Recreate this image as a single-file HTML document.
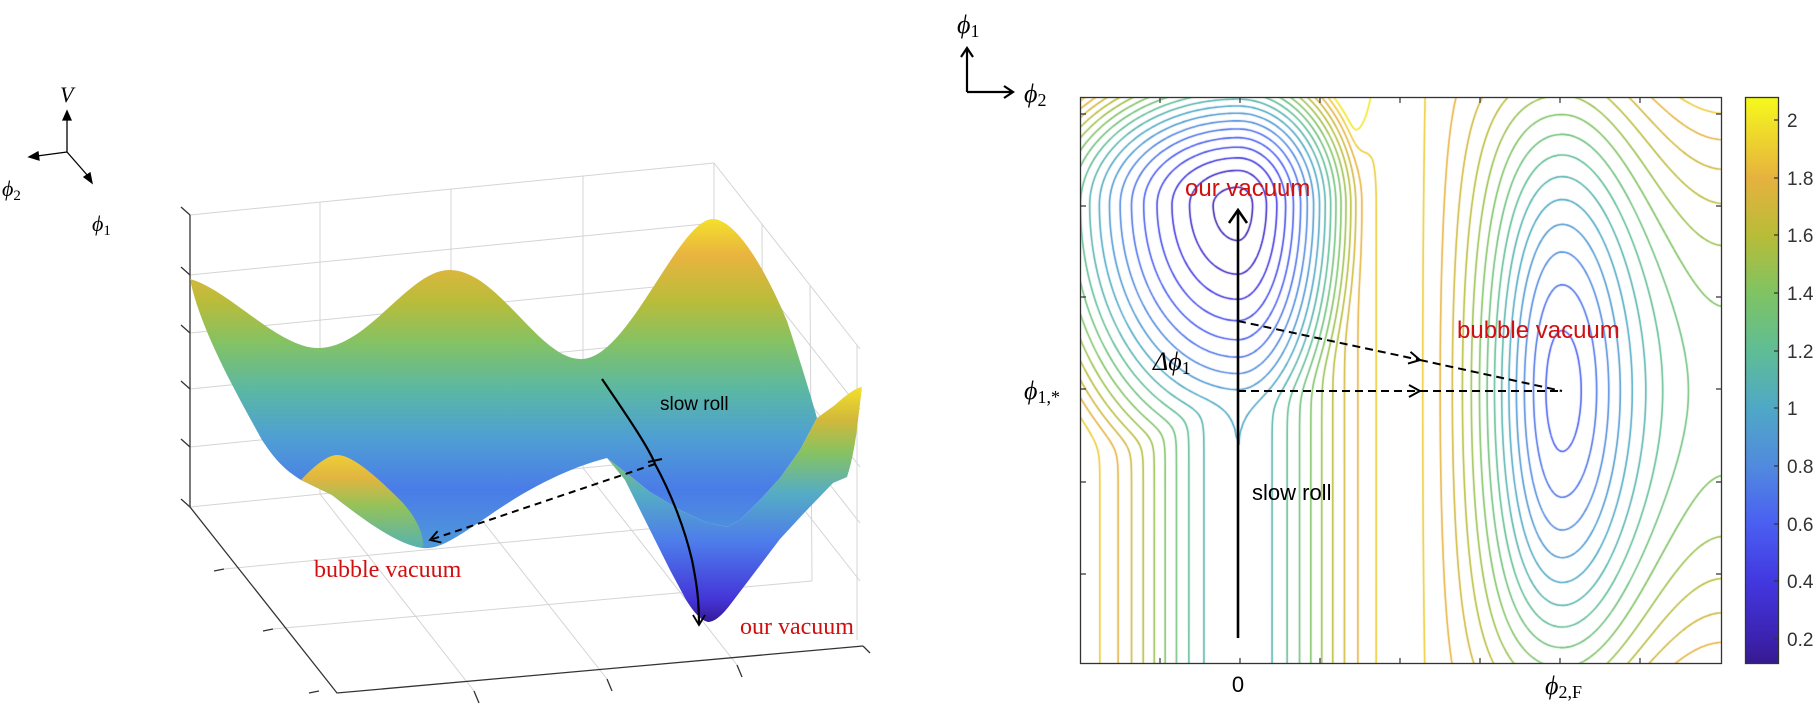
<!DOCTYPE html>
<html><head><meta charset="utf-8">
<style>
html,body{margin:0;padding:0;background:#fff;}
body{width:1817px;height:709px;overflow:hidden;position:relative;}
#cv{position:absolute;left:1080px;top:97px;}
svg{position:absolute;left:0;top:0;}
</style></head><body>
<canvas id="cv" width="642" height="567"></canvas>
<svg width="1817" height="709" xmlns="http://www.w3.org/2000/svg">
<defs>
<linearGradient id="gA" gradientUnits="userSpaceOnUse" x1="0" y1="215" x2="0" y2="550">
<stop offset="0" stop-color="#f5e52a"/><stop offset="0.12" stop-color="#e9b43f"/>
<stop offset="0.26" stop-color="#b9bc3a"/><stop offset="0.38" stop-color="#84c263"/>
<stop offset="0.52" stop-color="#5bb8a2"/><stop offset="0.66" stop-color="#4fa0d2"/>
<stop offset="0.82" stop-color="#4a7ce8"/><stop offset="1" stop-color="#4f9ad8"/>
</linearGradient>
<linearGradient id="gB" gradientUnits="userSpaceOnUse" x1="0" y1="455" x2="0" y2="548">
<stop offset="0" stop-color="#efcd36"/><stop offset="0.25" stop-color="#e0b540"/>
<stop offset="0.55" stop-color="#94c25a"/><stop offset="1" stop-color="#56b2b0"/>
</linearGradient>
<linearGradient id="gC" gradientUnits="userSpaceOnUse" x1="0" y1="387" x2="0" y2="622">
<stop offset="0" stop-color="#f2e02c"/><stop offset="0.14" stop-color="#d2b83a"/>
<stop offset="0.28" stop-color="#86c262"/><stop offset="0.45" stop-color="#55adc4"/>
<stop offset="0.66" stop-color="#4d7ceb"/><stop offset="0.9" stop-color="#4436d8"/>
<stop offset="1" stop-color="#361a98"/>
</linearGradient>
<linearGradient id="gCB" x1="0" y1="0" x2="0" y2="1">
<stop offset="0" stop-color="#f6f91c"/><stop offset="0.142" stop-color="#e6b23e"/>
<stop offset="0.244" stop-color="#b8bc38"/><stop offset="0.346" stop-color="#7fc363"/>
<stop offset="0.448" stop-color="#5fbd95"/><stop offset="0.549" stop-color="#4fa8c6"/>
<stop offset="0.651" stop-color="#518ade"/><stop offset="0.753" stop-color="#4a5ff2"/>
<stop offset="0.855" stop-color="#4238e0"/><stop offset="0.956" stop-color="#3c22b0"/>
<stop offset="1" stop-color="#36198f"/>
</linearGradient>
<marker id="chev" markerWidth="14" markerHeight="14" refX="12" refY="7" orient="auto" markerUnits="userSpaceOnUse">
<path d="M1,1 L12,7 L1,13" fill="none" stroke="#000" stroke-width="2"/>
</marker>
<marker id="chev2" markerWidth="14" markerHeight="14" refX="11" refY="7" orient="auto" markerUnits="userSpaceOnUse">
<path d="M1,1 L11,7 L1,13" fill="none" stroke="#000" stroke-width="1.8"/>
</marker>
</defs>

<g stroke="#d4d4d4" stroke-width="1" fill="none">
<path d="M190,215 L714,163 M190,275 L714,223 M190,333 L714,281 M190,389 L714,337 M190,447 L714,395 M190,507 L714,455"/>
<path d="M320,202 L320,494 M451,189 L451,481 M583,176 L583,468 M714,163 L714,455"/>
<path d="M714,163 L860,349 M714,223 L860,409 M714,281 L860,467 M714,337 L860,523 M714,395 L860,581"/>
<path d="M762,224 L763,518 M810,286 L812,581 M857,345 L857,640"/>
<path d="M224,569 L763,518 M273,629 L812,581"/>
<path d="M320,494 L474,691 M451,481 L607,679 M583,468 L737,665"/>
</g>
<g stroke="#333" stroke-width="1.3" fill="none">
<path d="M190,215 L190,507 L337,693 L863,646"/>
<path d="M190,215 L181,207 M190,275 L181,267 M190,333 L181,325 M190,389 L181,381 M190,447 L181,439 M190,507 L181,499"/>
<path d="M224,569 L214,571 M273,629 L263,631 M319,691 L309,693"/>
<path d="M474,691 L479,703 M607,679 L612,691 M737,665 L742,677 M863,646 L870,653"/>
</g>

<path fill="url(#gA)" d="M190,279 C230,290 280,350 320,348 C370,346 410,268 451,270 C500,272 540,362 583,359 C630,356 680,216 714,219 C740,222 770,280 787,321 C800,360 812,400 817,418 L800,450 L780,478 L760,500 L740,520 L727,527 L705,522 L680,510 L650,492 L625,472 L607,458 C580,465 540,480 490,515 C460,535 440,550 423,548 C400,545 370,525 332,495 L301,480 C285,470 275,460 262,440 C240,400 200,330 190,279 Z"/>
<path fill="url(#gB)" d="M301,480 C315,465 328,455 337,455 C352,455 375,475 400,500 C415,515 425,535 423,548 C400,545 370,525 332,495 Z"/>
<path fill="url(#gC)" d="M607,458 L625,480 L640,510 L655,540 L670,570 L685,598 C692,610 700,620 708,622 C716,622 725,612 733,601 L755,572 L780,539 L805,512 L833,483 L847,477 C852,462 856,440 858,420 L862,387 C855,388 845,396 835,405 L817,418 L800,450 L780,478 L760,500 L740,520 L727,527 L705,522 L680,510 L650,492 L625,472 Z"/>

<path d="M602,379 C630,420 650,450 655,464 C672,495 685,530 692,560 C697,585 699,600 699,625" fill="none" stroke="#000" stroke-width="2.2" marker-end="url(#chev2)"/>
<path d="M648,462 L662,459" stroke="#000" stroke-width="2"/>
<path d="M655,464 L430,540" stroke="#000" stroke-width="2" stroke-dasharray="7,5" fill="none" marker-end="url(#chev2)"/>
<text x="660" y="410" font-family="Liberation Sans, sans-serif" font-size="19" fill="#000">slow roll</text>
<text x="314" y="577" font-family="Liberation Serif, serif" font-size="24" fill="#d01010">bubble vacuum</text>
<text x="740" y="634" font-family="Liberation Serif, serif" font-size="24" fill="#d01010">our vacuum</text>

<g stroke="#000" stroke-width="1.3" fill="#000">
<line x1="67" y1="152" x2="67" y2="118"/><path d="M63,120 L67,111 L71,120 Z"/>
<line x1="67" y1="152" x2="37" y2="156"/><path d="M38,152 L29,157 L39,160 Z"/>
<line x1="67" y1="152" x2="88" y2="176"/><path d="M84,177 L92,183 L90,173 Z"/>
</g>
<g font-family="Liberation Serif, serif" font-style="italic" font-size="22" fill="#000">
<text x="60" y="102">V</text>
<text x="2" y="196">ϕ<tspan font-size="15" font-style="normal" dy="4">2</tspan></text>
<text x="92" y="231">ϕ<tspan font-size="15" font-style="normal" dy="4">1</tspan></text>
</g>

<rect x="1080.5" y="97.5" width="641" height="566" fill="none" stroke="#333" stroke-width="1.3"/>
<g stroke="#333" stroke-width="1.2">
<path d="M1160,664 v-6 M1240,664 v-6 M1320,664 v-6 M1400,664 v-6 M1480,664 v-6 M1560,664 v-6 M1640,664 v-6"/>
<path d="M1160,97 v6 M1240,97 v6 M1320,97 v6 M1400,97 v6 M1480,97 v6 M1560,97 v6 M1640,97 v6"/>
<path d="M1080,114 h6 M1080,206 h6 M1080,297 h6 M1080,389 h6 M1080,482 h6 M1080,574 h6"/>
<path d="M1722,114 h-6 M1722,206 h-6 M1722,297 h-6 M1722,389 h-6 M1722,482 h-6 M1722,574 h-6"/>
</g>
<line x1="1238" y1="638" x2="1238" y2="212" stroke="#000" stroke-width="2.6"/>
<path d="M1229,223 L1238,210 L1247,223" fill="none" stroke="#000" stroke-width="2.6"/>
<path d="M1238,321 L1420,360" stroke="#000" stroke-width="2" stroke-dasharray="8,5" fill="none" marker-end="url(#chev)"/>
<path d="M1420,360 L1562,391" stroke="#000" stroke-width="2" stroke-dasharray="8,5" fill="none"/>
<path d="M1238,391 L1420,391" stroke="#000" stroke-width="2" stroke-dasharray="8,5" fill="none" marker-end="url(#chev)"/>
<path d="M1420,391 L1562,391" stroke="#000" stroke-width="2" stroke-dasharray="8,5" fill="none"/>
<text x="1185" y="196" font-family="Liberation Sans, sans-serif" font-size="24" fill="#d01010">our vacuum</text>
<text x="1457" y="338" font-family="Liberation Sans, sans-serif" font-size="24" fill="#d01010">bubble vacuum</text>
<text x="1252" y="500" font-family="Liberation Sans, sans-serif" font-size="22" fill="#000">slow roll</text>
<g font-family="Liberation Serif, serif" font-style="italic" fill="#000">
<text x="1153" y="370" font-size="26">Δϕ<tspan font-size="18" font-style="normal" dy="4">1</tspan></text>
<text x="1024" y="399" font-size="26">ϕ<tspan font-size="18" font-style="normal" dy="4">1,*</tspan></text>
<text x="1545" y="694" font-size="26">ϕ<tspan font-size="18" font-style="normal" dy="4">2,F</tspan></text>
<text x="957" y="33" font-size="26">ϕ<tspan font-size="18" font-style="normal" dy="4">1</tspan></text>
<text x="1024" y="102" font-size="26">ϕ<tspan font-size="18" font-style="normal" dy="4">2</tspan></text>
</g>
<text x="1238" y="692" text-anchor="middle" font-family="Liberation Sans, sans-serif" font-size="22" fill="#000">0</text>
<g stroke="#000" stroke-width="2.2" fill="none">
<path d="M967,92 L967,49 M961,57 L967,48 L973,57"/>
<path d="M967,92 L1012,92 M1004,86 L1013,92 L1004,98"/>
</g>

<rect x="1745.5" y="97.5" width="33" height="566" fill="url(#gCB)" stroke="#333" stroke-width="1.3"/>
<g stroke="#333" stroke-width="1.2">
<path d="M1779,120 h-5 M1779,178 h-5 M1779,235 h-5 M1779,293 h-5 M1779,351 h-5 M1779,408 h-5 M1779,466 h-5 M1779,524 h-5 M1779,581 h-5 M1779,639 h-5"/>
</g>
<g font-family="Liberation Sans, sans-serif" font-size="19" fill="#333">
<text x="1787" y="127">2</text><text x="1787" y="185">1.8</text><text x="1787" y="242">1.6</text>
<text x="1787" y="300">1.4</text><text x="1787" y="358">1.2</text><text x="1787" y="415">1</text>
<text x="1787" y="473">0.8</text><text x="1787" y="531">0.6</text><text x="1787" y="588">0.4</text>
<text x="1787" y="646">0.2</text>
</g>
</svg>
<script>
(function(){
var cv=document.getElementById('cv'),ctx=cv.getContext('2d');
function ss(a,b,x){var t=Math.max(0,Math.min(1,(x-a)/(b-a)));return t*t*(3-2*t);}
function smin(a,b,k){var m=Math.min(a,b);return m-k*Math.log(Math.exp(-(a-m)/k)+Math.exp(-(b-m)/k));}
function V(x,y){
 var X=(x-1238)/324,Yp=y-391,s=Math.sin(Math.PI*X);
 var w=ss(0.55,1.0,X);
 var base=1+(X<=1?0.95:0.35)*s*s;
 base+=0.6*Math.pow(Yp/290,2)*w-0.45*Math.exp(-Math.pow((X-1)/0.2,2)-Math.pow(Yp/260,2));
 if(Yp<-186)base+=1.5*Math.pow((-186-Yp)/100,2)*(1-ss(0.2,0.45,X));
 var dx=x-1238,dy=y-205;dx=dx>0?dx*1.7:dx;dy=dy<0?dy*1.4:dy*0.7;
 var rho=Math.sqrt(dx*dx+dy*dy),Vv=0.15+Math.pow(rho/153,1.65);
 return smin(Vv,base,0.05);
}
var stops=[[0.114,[54,25,143]],[0.2,[60,34,176]],[0.4,[66,56,224]],[0.6,[74,95,242]],[0.8,[81,138,222]],[1.0,[79,168,198]],[1.2,[95,189,149]],[1.4,[127,195,99]],[1.6,[184,188,56]],[1.8,[230,178,62]],[2.08,[246,249,28]]];
function col(v){for(var i=0;i<stops.length-1;i++){if(v<=stops[i+1][0]){var a=stops[i],b=stops[i+1],t=(v-a[0])/(b[0]-a[0]);
 return 'rgb('+[0,1,2].map(function(j){return Math.round(a[1][j]+(b[1][j]-a[1][j])*t)}).join(',')+')';}}return 'rgb(246,249,28)';}
var st=3,W=642,H=567,nx=Math.ceil(W/st)+1,ny=Math.ceil(H/st)+1,g=[];
for(var j=0;j<ny;j++){g[j]=[];for(var i=0;i<nx;i++)g[j][i]=V(1080+i*st,97+j*st);}
ctx.lineWidth=1.6;ctx.lineJoin='round';
for(var L=0.2;L<2.05;L+=0.1){
 ctx.strokeStyle=col(L);ctx.beginPath();
 for(var j=0;j<ny-1;j++)for(var i=0;i<nx-1;i++){
  var a=g[j][i],b=g[j][i+1],c=g[j+1][i+1],d=g[j+1][i];
  var x0=i*st,y0=j*st,p=[];
  if((a<L)!=(b<L))p.push([x0+st*(L-a)/(b-a),y0]);
  if((b<L)!=(c<L))p.push([x0+st,y0+st*(L-b)/(c-b)]);
  if((d<L)!=(c<L))p.push([x0+st*(L-d)/(c-d),y0+st]);
  if((a<L)!=(d<L))p.push([x0,y0+st*(L-a)/(d-a)]);
  if(p.length>=2){ctx.moveTo(p[0][0],p[0][1]);ctx.lineTo(p[1][0],p[1][1]);}
  if(p.length==4){ctx.moveTo(p[2][0],p[2][1]);ctx.lineTo(p[3][0],p[3][1]);}
 }
 ctx.stroke();
}
})();
</script>
</body></html>
